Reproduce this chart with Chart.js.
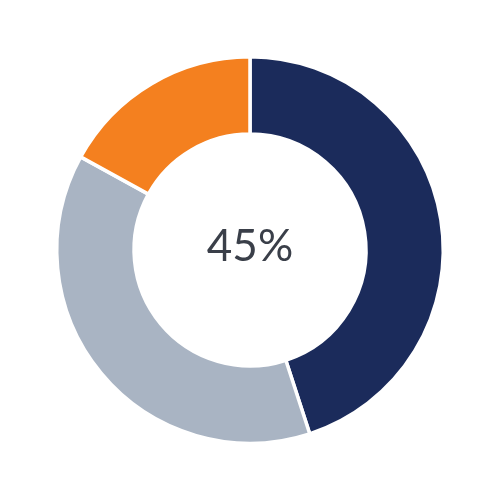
<!DOCTYPE html>
<html>
<head>
<meta charset="utf-8">
<script src="https://cdn.jsdelivr.net/npm/chart.js@4"></script>
<style>
  html, body { margin: 0; padding: 0; background: #ffffff; }
  #wrap { width: 500px; height: 500px; }
</style>
</head>
<body>
<div id="wrap"><canvas id="donutCtx"></canvas></div>
<script>
// chart data
const labels = ["A", "B", "C"];
const values = [45, 38, 17];
const colors = ["#1b2b5b", "#a9b4c3", "#f4801f"];
const centerLabel = "45%";

// draws the big percentage in the middle of the ring
const centerText = {
    id: "centerText",
    afterDraw(chart) {
        const ctx = chart.ctx;
        const meta = chart.getDatasetMeta(0).data[0];
        ctx.save();
        ctx.font = "400 44px Lato";
        ctx.fillStyle = "#3a3f49";
        ctx.textAlign = "center";
        ctx.textBaseline = "middle";
        ctx.fillText(centerLabel, meta.x, meta.y - 3);
        ctx.restore();
    }
};

const donutChart = new Chart(document.getElementById("donutCtx"), {
    type: "doughnut",
    data: {
        labels: labels,
        datasets: [{
            data: values,
            backgroundColor: colors,
            borderColor: "#ffffff",
            borderWidth: 3.5
        }]
    },
    options: {
        responsive: true,
        maintainAspectRatio: false,
        animation: false,
        cutout: "60%",
        layout: { padding: 55 },
        plugins: {
            legend: { display: false },
            tooltip: { enabled: false }
        }
    },
    plugins: [centerText]
});
</script>
</body>
</html>
